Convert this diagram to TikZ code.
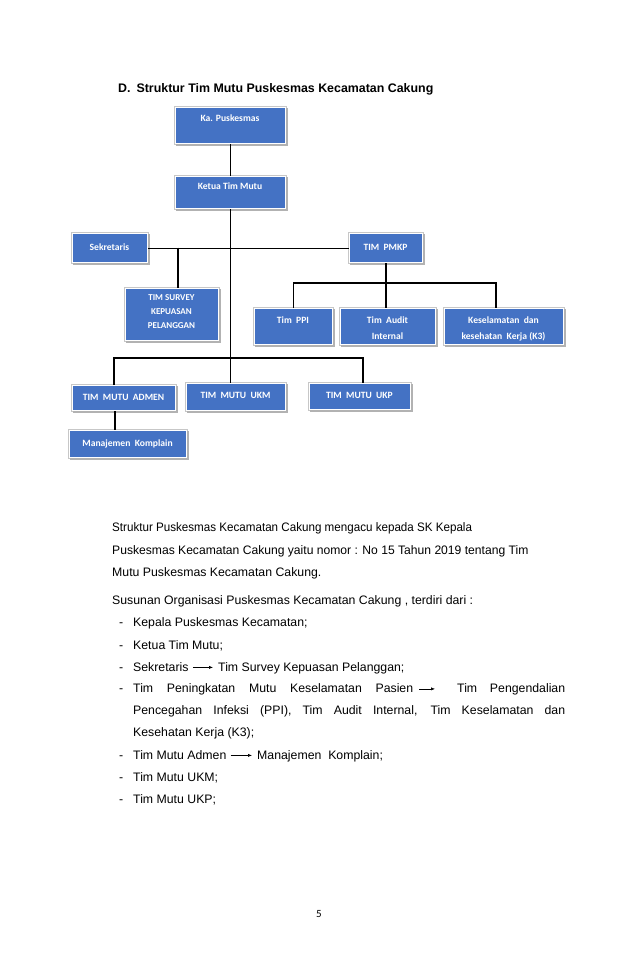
\documentclass[tikz,border=0pt]{standalone}
\usepackage{fontspec}
\usepackage{graphicx}
\setmainfont{Liberation Sans}
\newfontfamily\boxfont{Carlito}
\usetikzlibrary{arrows.meta}
\definecolor{boxblue}{RGB}{68,114,196}
\begin{document}
\begin{tikzpicture}[x=1pt,y=-1pt,
  box/.style={draw=white, line width=1.3pt, fill=boxblue,
    preaction={draw=black!22, line width=2.8pt},
    preaction={draw=black!30, line width=1.4pt, transform canvas={xshift=1.3pt,yshift=-1.3pt}},
    inner sep=0pt, anchor=north west},
  btxt/.style={text=white, font=\boxfont\bfseries\fontsize{9.6}{14}\selectfont, inner sep=0pt, align=center},
  link/.style={line width=1.3pt, black},
  body/.style={font=\fontsize{12.3}{14}\selectfont, inner sep=0pt, anchor=base west},
  tarrow/.style={line width=0.6pt, -{Latex[length=4pt,width=3.2pt]}},
]
\useasboundingbox (0,0) rectangle (638,975);
\fill[white] (0,0) rectangle (638,975);

% title
\node[anchor=base west, inner sep=0pt, font=\bfseries\fontsize{12.4}{15}\selectfont] (title) at (118,92.7)
  {D.\hspace{6pt}Struktur Tim Mutu Puskesmas Kecamatan Cakung};

% boxes
\node[box, minimum width=110, minimum height=36] (ka) at (175,107) {};
\node[box, minimum width=110, minimum height=32] (ketua) at (175,176) {};
\node[box, minimum width=75, minimum height=29] (sek) at (72,233) {};
\node[box, minimum width=73, minimum height=29] (pmkp) at (349,233) {};
\node[box, minimum width=93, minimum height=52] (survey) at (125,288) {};
\node[box, minimum width=78, minimum height=36] (ppi) at (254,308) {};
\node[box, minimum width=95, minimum height=36] (audit) at (340,308) {};
\node[box, minimum width=119, minimum height=36] (k3) at (444,308) {};
\node[box, minimum width=103, minimum height=25] (admen) at (72,385) {};
\node[box, minimum width=99, minimum height=27] (ukm) at (186,383) {};
\node[box, minimum width=101, minimum height=26] (ukp) at (309,383) {};
\node[box, minimum width=117, minimum height=27] (komplain) at (69,430) {};

% box texts
\node[btxt] (ka-t) at (230,118) {Ka. Puskesmas};
\node[btxt] (ketua-t) at (230,186) {Ketua Tim\ Mutu};
\node[btxt] (sek-t) at (109.5,247) {Sekretaris};
\node[btxt] (pmkp-t) at (385.5,247) {TIM\ \ PMKP};
\node[btxt, font=\boxfont\bfseries\fontsize{9}{14}\selectfont] (survey-t) at (171.5,311.5) {TIM SURVEY\\KEPUASAN\\PELANGGAN};
\node[btxt] (ppi-t) at (293,320.5) {Tim\ \ PPI};
\node[btxt, font=\boxfont\bfseries\fontsize{9.6}{16}\selectfont] (audit-t) at (387.5,328.5) {Tim\ \ Audit\\Internal};
\node[btxt, font=\boxfont\bfseries\fontsize{9.6}{16}\selectfont] (k3-t) at (503.5,328.5) {Keselamatan\ \ dan\\kesehatan\ \ Kerja\ (K3)};
\node[btxt] (admen-t) at (123.5,397.5) {TIM\ \ MUTU\ \ ADMEN};
\node[btxt] (ukm-t) at (235.5,395.5) {TIM\ \ MUTU\ \ UKM};
\node[btxt] (ukp-t) at (359.5,395.5) {TIM\ \ MUTU\ \ UKP};
\node[btxt] (komplain-t) at (127.5,443.5) {Manajemen\ \ Komplain};

% connectors
\coordinate (jsv) at (178,247.5);
\coordinate (pj) at (386,283);
\coordinate (k3j) at (496,283);
\coordinate (bl) at (114,358);
\coordinate (br) at (363,358);
\coordinate (adj) at (115,410);

\draw[link] (ka.south) -- (ketua.north);
\draw[link] (ketua.south) -- (ketua.south |- ukm.north);
\draw[link] (sek.east) -- (pmkp.west);
\draw[link] (jsv) -- (jsv |- survey.north);
\draw[link] (pmkp.south -| pj) -- (pj);
\draw[link] (ppi.north) -- (ppi.north |- pj) -- (k3j) -- (k3j |- k3.north);
\draw[link] (pj) -- (pj |- audit.north);
\draw[link] (bl |- admen.north) -- (bl) -- (br) -- (br |- ukp.north);
\draw[link] (adj |- admen.south) -- (adj |- komplain.north);

% body text
\node[body] (p1) at (112,531.5) {\scalebox{0.945}[1]{Struktur Puskesmas Kecamatan Cakung mengacu kepada SK Kepala}};
\node[body] (p2) at (112,554) {\scalebox{0.985}[1]{Puskesmas Kecamatan Cakung yaitu nomor : No 15 Tahun\ 2019 tentang\ Tim}};
\node[body] (p3) at (112,576.5) {Mutu Puskesmas Kecamatan Cakung.};
\node[body] (p4) at (112,604.5) {Susunan Organisasi Puskesmas Kecamatan Cakung , terdiri dari :};

\foreach \yy/\nm in {626.5/d1, 649.5/d2, 671/d3, 692.5/d4, 759/d5, 781/d6, 803/d7}
  \node[body] (\nm) at (119,\yy) {-};

\node[body] (b1) at (133,626.5) {Kepala Puskesmas Kecamatan;};
\node[body] (b2) at (133,649.5) {Ketua Tim Mutu;};
\node[body] (b3a) at (133,671) {Sekretaris};
\node[body] (b3b) at (218,671) {Tim Survey Kepuasan Pelanggan;};
\node[body] (b4a) at (133,692.5) {\makebox[280pt][s]{Tim Peningkatan Mutu Keselamatan Pasien}};
\node[body] (b4b) at (457,692.5) {\makebox[108pt][s]{Tim Pengendalian}};
\node[body] (b5) at (133,714.5) {\makebox[432pt][s]{Pencegahan Infeksi (PPI), Tim Audit Internal, Tim Keselamatan dan}};
\node[body] (b6) at (133,736) {Kesehatan Kerja (K3);};
\node[body] (b7a) at (133,759) {Tim Mutu Admen};
\node[body] (b7b) at (257,759) {Manajemen\ \ Komplain;};
\node[body] (b8) at (133,781) {Tim Mutu UKM;};
\node[body] (b9) at (133,803) {Tim Mutu UKP;};

\draw[tarrow] ([xshift=4pt,yshift=3.6pt]b3a.base east) -- ([xshift=-5pt,yshift=3.6pt]b3b.base west);
\draw[tarrow] ([xshift=6pt,yshift=3.6pt]b4a.base east) -- ([xshift=-22pt,yshift=3.6pt]b4b.base west);
\draw[tarrow] ([xshift=4pt,yshift=3.6pt]b7a.base east) -- ([xshift=-5pt,yshift=3.6pt]b7b.base west);

\node[anchor=base, inner sep=0pt, font=\boxfont\fontsize{11}{13}\selectfont] (pg) at (319,917.5) {5};
\end{tikzpicture}
\end{document}
